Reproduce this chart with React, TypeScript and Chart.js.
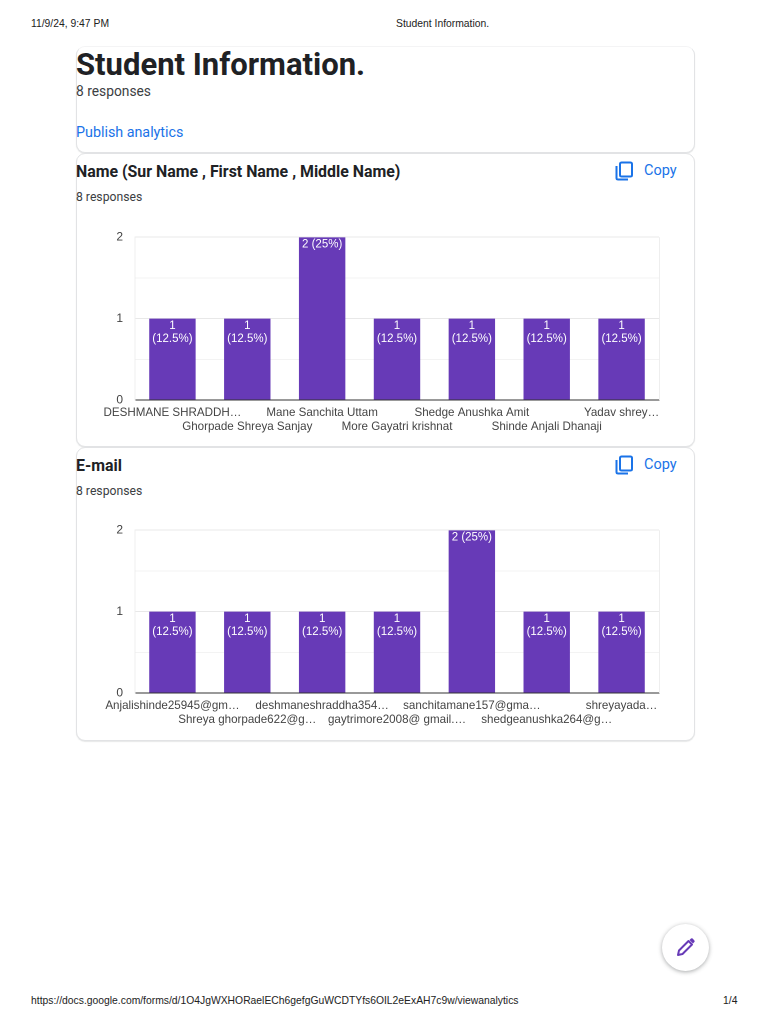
import React, { useEffect, useRef } from "react";
import { Chart, ChartConfiguration, Plugin, registerables } from "chart.js";

Chart.register(...registerables);

const nameLabels = [
  "DESHMANE SHRADDH…",
  "Ghorpade Shreya Sanjay",
  "Mane Sanchita Uttam",
  "More Gayatri krishnat",
  "Shedge Anushka Amit",
  "Shinde Anjali Dhanaji",
  "Yadav shrey…",
];
const nameValues = [1, 1, 2, 1, 1, 1, 1];
const nameBarText = [
  ["1", "(12.5%)"],
  ["1", "(12.5%)"],
  ["2 (25%)"],
  ["1", "(12.5%)"],
  ["1", "(12.5%)"],
  ["1", "(12.5%)"],
  ["1", "(12.5%)"],
];

const emailLabels = [
  "Anjalishinde25945@gm…",
  "Shreya ghorpade622@g…",
  "deshmaneshraddha354…",
  "gaytrimore2008@ gmail.…",
  "sanchitamane157@gma…",
  "shedgeanushka264@g…",
  "shreyayada…",
];
const emailValues = [1, 1, 1, 1, 2, 1, 1];
const emailBarText = [
  ["1", "(12.5%)"],
  ["1", "(12.5%)"],
  ["1", "(12.5%)"],
  ["1", "(12.5%)"],
  ["2 (25%)"],
  ["1", "(12.5%)"],
  ["1", "(12.5%)"],
];

const PURPLE = "#673ab7";
const BLUE = "#1a73e8";
const FONT = "Roboto, Arial, sans-serif";
const AXIS_FONT = "'Liberation Sans', Arial, sans-serif";

const barTextPlugin: Plugin<"bar"> = {
  id: "barText",
  afterDatasetsDraw(chart) {
    const texts = (chart.options.plugins as any).barText.texts as string[][];
    const meta = chart.getDatasetMeta(0);
    const ctx = chart.ctx;
    ctx.save();
    ctx.fillStyle = "#ffffff";
    ctx.font = `11.5px ${AXIS_FONT}`;
    ctx.textAlign = "center";
    ctx.textBaseline = "middle";
    meta.data.forEach((bar: any, i: number) => {
      texts[i].forEach((line, j) => {
        ctx.fillText(line, bar.x, bar.y + 7 + j * 13);
      });
    });
    ctx.restore();
  },
};

const frameRightPlugin: Plugin<"bar"> = {
  id: "frameRight",
  beforeDatasetsDraw(chart) {
    const { ctx, chartArea } = chart;
    ctx.save();
    ctx.strokeStyle = "#eeeeee";
    ctx.lineWidth = 1;
    ctx.beginPath();
    ctx.moveTo(chartArea.right + 0.5, chartArea.top);
    ctx.lineTo(chartArea.right + 0.5, chartArea.bottom);
    ctx.stroke();
    ctx.restore();
  },
};

interface BarChartProps {
  labels: string[];
  values: number[];
  barText: string[][];
  top: number;
}

const BarChart: React.FC<BarChartProps> = ({ labels, values, barText, top }) => {
  const chartRef = useRef<HTMLCanvasElement | null>(null);

  useEffect(() => {
    if (!chartRef.current) return;
    const config: ChartConfiguration<"bar"> = {
      type: "bar",
      data: {
        labels,
        datasets: [
          {
            data: values,
            backgroundColor: PURPLE,
            categoryPercentage: 1,
            barPercentage: 0.62,
          },
        ],
      },
      options: {
        animation: false,
        responsive: false,
        devicePixelRatio: 2,
        layout: { padding: { top: 12, right: 35, left: 0, bottom: 0 } },
        plugins: {
          legend: { display: false },
          tooltip: { enabled: false },
          barText: { texts: barText },
        } as any,
        scales: {
          x: {
            grid: { display: false },
            border: { color: "#333333", width: 1 },
            afterFit(scale) {
              scale.height = 48;
            },
            ticks: {
              autoSkip: false,
              maxRotation: 0,
              minRotation: 0,
              padding: -2,
              color: "#444444",
              font: { family: AXIS_FONT, size: 11.6, lineHeight: 1.2 },
              callback(_value, index) {
                return index % 2 === 0 ? [labels[index], ""] : ["", labels[index]];
              },
            },
          },
          y: {
            min: 0,
            max: 2,
            afterFit(scale) {
              scale.width = 59;
            },
            border: { color: "#eeeeee" },
            grid: {
              drawTicks: false,
              color(context) {
                return context.tick.value % 1 === 0 ? "#e8e8e8" : "#f3f3f3";
              },
            },
            ticks: {
              stepSize: 0.5,
              padding: 12,
              color: "#444444",
              font: { family: AXIS_FONT, size: 12 },
              callback(value) {
                return Number(value) % 1 === 0 ? String(value) : "";
              },
            },
          },
        },
      },
      plugins: [frameRightPlugin, barTextPlugin],
    };
    const chart = new Chart(chartRef.current, config);
    return () => chart.destroy();
  }, [labels, values, barText]);

  return (
    <canvas
      ref={chartRef}
      width={618}
      height={230}
      style={{ position: "absolute", left: 76, top, width: 618, height: 230 }}
    />
  );
};

const text = (
  left: number,
  top: number,
  size: number,
  color: string,
  weight = 400,
  family = FONT,
): React.CSSProperties => ({
  position: "absolute",
  left,
  top,
  fontSize: size,
  lineHeight: 1,
  color,
  fontWeight: weight,
  fontFamily: family,
  whiteSpace: "nowrap",
});

const card = (top: number, height: number, topBorder = "#e2e3e5"): React.CSSProperties => ({
  position: "absolute",
  left: 76,
  top,
  width: 619,
  height,
  boxSizing: "border-box",
  background: "#fff",
  border: "1px solid #e2e3e5",
  borderTopColor: topBorder,
  borderRadius: 9,
  boxShadow: "0 1px 1px rgba(60,64,67,0.12)",
});

const CopyIcon: React.FC<{ top: number }> = ({ top }) => (
  <svg
    width="20"
    height="20"
    viewBox="0 0 20 20"
    style={{ position: "absolute", left: 614, top }}
    fill="none"
    stroke={BLUE}
    strokeWidth="2"
  >
    <rect x="6" y="1.5" width="12" height="14" rx="1.5" />
    <path d="M2.5 5 V17 a1.5 1.5 0 0 0 1.5 1.5 H14" />
  </svg>
);

const App: React.FC = () => {
  useEffect(() => {
    document.body.style.margin = "0";
    document.body.style.background = "#fff";
  }, []);

  return (
    <div style={{ position: "relative", width: 768, height: 1024, overflow: "hidden", background: "#fff" }}>
      <div style={text(31, 19, 10.35, "#222", 400, AXIS_FONT)}>11/9/24, 9:47 PM</div>
      <div style={text(396, 19, 10.35, "#222", 400, AXIS_FONT)}>Student Information.</div>

      <div style={card(46, 107, "#f4f4f5")} />
      <div style={card(153, 294)} />
      <div style={card(447, 294)} />

      <div style={text(76, 49, 31, "#202124", 700)}>Student Information.</div>
      <div style={text(76, 85, 13.8, "#3c4043")}>8 responses</div>
      <div style={text(76, 125, 14.3, BLUE)}>Publish analytics</div>

      <div style={text(76, 164, 15.9, "#202124", 700)}>Name (Sur Name , First Name , Middle Name)</div>
      <CopyIcon top={161} />
      <div style={text(644, 164, 14.5, BLUE)}>Copy</div>
      <div style={text(76, 191, 12.2, "#3c4043")}>8 responses</div>
      <BarChart labels={nameLabels} values={nameValues} barText={nameBarText} top={225 - 7} />

      <div style={text(76, 458, 15.9, "#202124", 700)}>E-mail</div>
      <CopyIcon top={455} />
      <div style={text(644, 458, 14.5, BLUE)}>Copy</div>
      <div style={text(76, 485, 12.2, "#3c4043")}>8 responses</div>
      <BarChart labels={emailLabels} values={emailValues} barText={emailBarText} top={511} />

      <div
        style={{
          position: "absolute",
          left: 662,
          top: 924,
          width: 47,
          height: 47,
          borderRadius: "50%",
          background: "#fff",
          boxShadow: "0 1px 4px rgba(60,64,67,0.45)",
        }}
      />
      <svg width="20" height="20" viewBox="0 0 20 20" style={{ position: "absolute", left: 676, top: 937 }}>
        <path
          d="M2 18 L3 13.5 L12.5 4 L16 7.5 L6.5 17 Z"
          fill="#fff"
          stroke={PURPLE}
          strokeWidth="2"
          strokeLinejoin="round"
        />
        <path d="M13.5 3 L15 1.6 a1.2 1.2 0 0 1 1.6 0 L18.4 3.4 a1.2 1.2 0 0 1 0 1.6 L17 6.5 Z" fill={PURPLE} />
      </svg>

      <div style={text(31, 996, 10.35, "#222", 400, AXIS_FONT)}>
        https://docs.google.com/forms/d/1O4JgWXHORaelECh6gefgGuWCDTYfs6OIL2eExAH7c9w/viewanalytics
      </div>
      <div style={text(723, 996, 10.35, "#222", 400, AXIS_FONT)}>1/4</div>
    </div>
  );
};

export default App;
